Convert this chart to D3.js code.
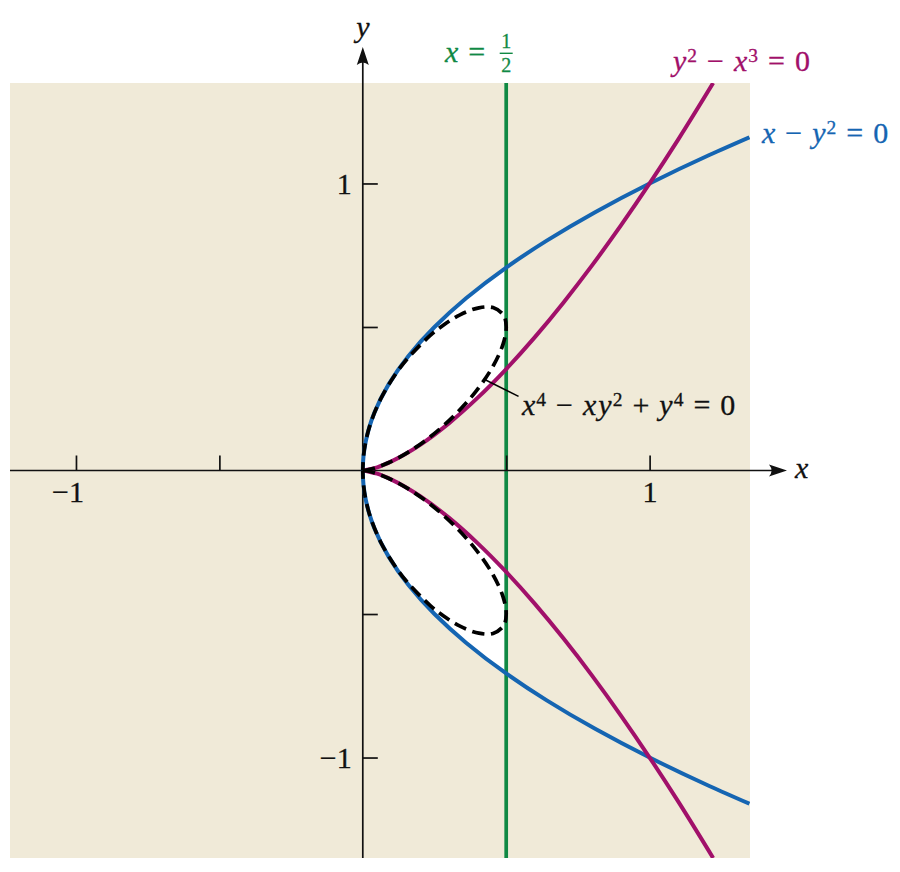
<!DOCTYPE html>
<html>
<head>
<meta charset="utf-8">
<script src="https://cdn.jsdelivr.net/npm/d3@7"></script>
<style>
  html, body { margin: 0; padding: 0; background: #fff; }
  svg { display: block; }
  svg text { font-family: "Liberation Serif", serif; stroke-width: 0.3px; }
</style>
</head>
<body>
<div id="graph"></div>
<script>
const width = 900;
const height = 872;

// parabola x - y^2 = 0 (read as x for each y)
const parabolaY = [-1.161, -1.1, -1.0, -0.9, -0.8, -0.7071, -0.6, -0.5, -0.4, -0.3, -0.2, -0.15, -0.1, -0.05, 0,
                   0.05, 0.1, 0.15, 0.2, 0.3, 0.4, 0.5, 0.6, 0.7071, 0.8, 0.9, 1.0, 1.1, 1.161];
const parabolaX = [1.348, 1.21, 1.0, 0.81, 0.64, 0.5, 0.36, 0.25, 0.16, 0.09, 0.04, 0.0225, 0.01, 0.0025, 0,
                   0.0025, 0.01, 0.0225, 0.04, 0.09, 0.16, 0.25, 0.36, 0.5, 0.64, 0.81, 1.0, 1.21, 1.348];

// cusp y^2 - x^3 = 0, upper and lower branch
const cuspX      = [0, 0.05, 0.1, 0.15, 0.2, 0.3, 0.4, 0.5, 0.6, 0.7, 0.8, 0.9, 1.0, 1.1, 1.2215];
const cuspYUpper = [0, 0.0112, 0.0316, 0.0581, 0.0894, 0.1643, 0.2530, 0.3536, 0.4648, 0.5857, 0.7155, 0.8538, 1.0, 1.1537, 1.35];
const cuspYLower = [0, -0.0112, -0.0316, -0.0581, -0.0894, -0.1643, -0.2530, -0.3536, -0.4648, -0.5857, -0.7155, -0.8538, -1.0, -1.1537, -1.35];

// x^4 - x y^2 + y^4 = 0, the two dashed loops
const loopX      = [0, 0.0100, 0.0399, 0.0893, 0.1560, 0.2353, 0.3187, 0.3951, 0.4540, 0.4891, 0.5, 0.4911,
                    0.4540, 0.4048, 0.3389, 0.2818, 0.2353, 0.1560, 0.1098, 0.0623, 0.0278, 0.0100, 0.0025, 0];
const loopYUpper = [0, 0.0010, 0.0080, 0.0268, 0.0624, 0.1176, 0.1912, 0.2766, 0.3632, 0.4402, 0.5, 0.5402,
                    0.5675, 0.5668, 0.5423, 0.5072, 0.4706, 0.3900, 0.3293, 0.2490, 0.1665, 0.1000, 0.0500, 0];
const loopYLower = [0, -0.0010, -0.0080, -0.0268, -0.0624, -0.1176, -0.1912, -0.2766, -0.3632, -0.4402, -0.5, -0.5402,
                    -0.5675, -0.5668, -0.5423, -0.5072, -0.4706, -0.3900, -0.3293, -0.2490, -0.1665, -0.1000, -0.0500, 0];

const lineX = 0.5;   // x = 1/2

const xTicks = [-1, -0.5, 0.5, 1];
const xTickLabels = ["−1", "", "", "1"];
const yTicks = [-1, -0.5, 0.5, 1];
const yTickLabels = ["−1", "", "", "1"];

const leaderFrom = [0.425, 0.317];
const leaderTo = [0.543, 0.258];

const beige = "#f0ead8";
const blue = "#1565b2";
const magenta = "#a1106a";
const green = "#108944";
const ink = "#111";
const fontSize = 30;

const x = d3.scaleLinear().domain([-1.23, 1.35]).range([10, 750]);
const y = d3.scaleLinear().domain([-1.35, 1.35]).range([858, 83]);

const svg = d3.create("svg")
  .attr("width", width)
  .attr("height", height)
  .attr("viewBox", `0 0 ${width} ${height}`);

svg.append("defs").append("clipPath")
   .attr("id", "plot-clip")
   .append("rect")
   .attr("x", x(-1.23)).attr("y", y(1.35))
   .attr("width", x(1.35) - x(-1.23))
   .attr("height", y(-1.35) - y(1.35));

svg.append("rect")
   .attr("x", x(-1.23)).attr("y", y(1.35))
   .attr("width", x(1.35) - x(-1.23))
   .attr("height", y(-1.35) - y(1.35))
   .attr("fill", beige);

const zip = (xs, ys) => xs.map((v, i) => [v, ys[i]]);
const parabola = zip(parabolaX, parabolaY);
const cuspUp = zip(cuspX, cuspYUpper);
const cuspDown = zip(cuspX, cuspYLower);

const linear = d3.line().x(d => x(d[0])).y(d => y(d[1]));

// white region between the parabola, the cusp and x = 1/2
const upperRegion = parabola.filter(d => d[1] >= 0 && d[0] <= lineX)
  .concat(cuspUp.filter(d => d[0] <= lineX).reverse());
const lowerRegion = parabola.filter(d => d[1] <= 0 && d[0] <= lineX).reverse()
  .concat(cuspDown.filter(d => d[0] <= lineX).reverse());

svg.append("g")
   .attr("fill", "#fff")
   .selectAll("path")
   .data([upperRegion, lowerRegion])
   .join("path")
   .attr("d", d => linear(d) + "Z");

// green line
svg.append("line")
   .attr("x1", x(lineX)).attr("x2", x(lineX))
   .attr("y1", y(1.35)).attr("y2", y(-1.35))
   .attr("stroke", green)
   .attr("stroke-width", 3.7);

// axes
const xAxis = d3.axisBottom(x)
  .tickValues(xTicks)
  .tickSizeInner(-15)
  .tickSizeOuter(0)
  .tickPadding(10)
  .tickFormat((d, i) => xTickLabels[i]);

const yAxis = d3.axisLeft(y)
  .tickValues(yTicks)
  .tickSizeInner(-15)
  .tickSizeOuter(0)
  .tickPadding(11)
  .tickFormat((d, i) => yTickLabels[i]);

const gx = svg.append("g")
   .attr("transform", `translate(0, ${y(0)})`)
   .call(xAxis);
const gy = svg.append("g")
   .attr("transform", `translate(${x(0)}, 0)`)
   .call(yAxis);

[gx, gy].forEach(g => {
  g.select(".domain").remove();
  g.attr("font-size", fontSize).attr("color", ink);
  g.selectAll(".tick line").attr("stroke-width", 1.7);
  g.selectAll(".tick text").attr("fill", ink).attr("stroke", ink);
});
// negative x labels: keep the digit under the tick, minus hangs to the left
gx.selectAll(".tick text")
  .filter(d => d < 0)
  .attr("text-anchor", "end")
  .attr("x", 7.5);

const xTip = x.range()[1] + 37;
const yTip = y.range()[1] - 36;

svg.append("line")
   .attr("x1", x.range()[0]).attr("x2", xTip - 12)
   .attr("y1", y(0)).attr("y2", y(0))
   .attr("stroke", ink).attr("stroke-width", 1.7);
svg.append("line")
   .attr("x1", x(0)).attr("x2", x(0))
   .attr("y1", y.range()[0]).attr("y2", yTip + 12)
   .attr("stroke", ink).attr("stroke-width", 1.7);

const arrow = "M0,0 L-18,-6 Q-13,0 -18,6 Z";
svg.append("path")
   .attr("d", arrow)
   .attr("transform", `translate(${xTip}, ${y(0)})`)
   .attr("fill", ink);
svg.append("path")
   .attr("d", arrow)
   .attr("transform", `translate(${x(0)}, ${yTip}) rotate(-90)`)
   .attr("fill", ink);

svg.append("text")
   .attr("x", xTip + 8).attr("y", y(0) + 7)
   .attr("font-style", "italic")
   .attr("font-size", fontSize)
   .attr("fill", ink).attr("stroke", ink)
   .text("x");
svg.append("text")
   .attr("x", x(0)).attr("y", yTip - 10)
   .attr("text-anchor", "middle")
   .attr("font-style", "italic")
   .attr("font-size", fontSize)
   .attr("fill", ink).attr("stroke", ink)
   .text("y");

// curves
const curves = svg.append("g").attr("clip-path", "url(#plot-clip)").attr("fill", "none");

curves.append("path")
   .datum(parabola)
   .attr("d", d3.line().x(d => x(d[0])).y(d => y(d[1])).curve(d3.curveMonotoneY))
   .attr("stroke", blue)
   .attr("stroke-width", 4);

const cuspLine = d3.line().x(d => x(d[0])).y(d => y(d[1])).curve(d3.curveMonotoneX);
curves.selectAll(".cusp")
   .data([cuspUp, cuspDown])
   .join("path")
   .attr("class", "cusp")
   .attr("d", cuspLine)
   .attr("stroke", magenta)
   .attr("stroke-width", 4);

const loopLine = d3.line().x(d => x(d[0])).y(d => y(d[1])).curve(d3.curveCatmullRom.alpha(0.5));
curves.selectAll(".loop")
   .data([zip(loopX, loopYUpper), zip(loopX, loopYLower)])
   .join("path")
   .attr("class", "loop")
   .attr("d", loopLine)
   .attr("stroke", "#000")
   .attr("stroke-width", 3.7)
   .attr("stroke-dasharray", "12.5,6.5");

// leader line to the dashed curve
svg.append("line")
   .attr("x1", x(leaderFrom[0])).attr("y1", y(leaderFrom[1]))
   .attr("x2", x(leaderTo[0])).attr("y2", y(leaderTo[1]))
   .attr("stroke", "#000")
   .attr("stroke-width", 1.5);

// math style labels built from tokens
function mathLabel(px, py, tokens, color) {
  const gap = 10;
  const raise = 9;
  const t = svg.append("text")
    .attr("x", px).attr("y", py)
    .attr("fill", color)
    .attr("stroke", color)
    .attr("font-size", fontSize);
  let pending = 0;
  let up = false;
  tokens.forEach(([s, kind]) => {
    const span = t.append("tspan").text(s);
    let dx = pending;
    pending = 0;
    if (kind === "op") { dx += gap; pending = gap; }
    if (kind === "sup") {
      span.attr("font-size", fontSize * 0.65);
      if (!up) span.attr("dy", -raise);
      up = true;
      dx += 1;
    } else if (up) {
      span.attr("dy", raise);
      up = false;
    }
    if (kind === "i") span.attr("font-style", "italic");
    if (kind === "i2") { span.attr("font-style", "italic"); dx += 2; }
    if (dx) span.attr("dx", dx);
  });
  return t;
}

mathLabel(x(1.392), y(1.141),
  [["x", "i"], ["−", "op"], ["y", "i"], ["2", "sup"], ["=", "op"], ["0", "n"]], blue);

mathLabel(x(1.0816), y(1.392),
  [["y", "i"], ["2", "sup"], ["−", "op"], ["x", "i"], ["3", "sup"], ["=", "op"], ["0", "n"]], magenta);

mathLabel(x(0.555), y(0.1934),
  [["x", "i"], ["4", "sup"], ["−", "op"], ["x", "i"], ["y", "i2"], ["2", "sup"], ["+", "op"],
   ["y", "i"], ["4", "sup"], ["=", "op"], ["0", "n"]], ink);

// x = 1/2 label
mathLabel(x(0.2866), y(1.423), [["x", "i"], ["=", "op"]], green);
const fx = x(lineX);
svg.append("text")
   .attr("x", fx).attr("y", 47.5)
   .attr("text-anchor", "middle")
   .attr("font-size", 20)
   .attr("fill", green).attr("stroke", green)
   .text("1");
svg.append("line")
   .attr("x1", fx - 6.5).attr("x2", fx + 6.5)
   .attr("y1", 53.3).attr("y2", 53.3)
   .attr("stroke", green)
   .attr("stroke-width", 1.4);
svg.append("text")
   .attr("x", fx).attr("y", 71.5)
   .attr("text-anchor", "middle")
   .attr("font-size", 20)
   .attr("fill", green).attr("stroke", green)
   .text("2");

graph.append(svg.node());
</script>
</body>
</html>
